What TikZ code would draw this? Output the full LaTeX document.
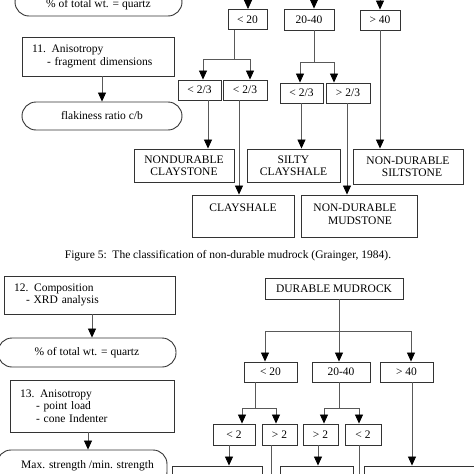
\documentclass[tikz,border=0pt]{standalone}
\usepackage{fontspec}
\setmainfont{Liberation Serif}
\usetikzlibrary{arrows.meta}
\begin{document}
\begin{tikzpicture}[x=1pt,y=-1pt,
  every node/.style={font=\fontsize{11.5}{12.5}\selectfont, inner sep=0pt},
  box/.style={draw=black!80, line width=0.9pt, rectangle, align=center},
  term/.style={draw=black!80, line width=0.9pt, rounded corners=14pt},
  txtbox/.style={draw=black!80, line width=0.9pt, rectangle, align=left},
  conn/.style={draw=black!65, line width=0.8pt},
  arr/.style={conn, -{Triangle[width=8pt,length=9pt,color=black]}}]
\useasboundingbox (0,0) rectangle (474,474);
\clip (0,0) rectangle (474,474);

% ---------- top left column ----------
\node[term, minimum width=167pt, minimum height=28pt] (q1) at (98.5,2) {};
\node (q1T) at (98.5,5) {\% of total wt. = quartz};
\node[txtbox, text width=132pt, inner xsep=10pt, minimum height=39pt] (a11) at (98,56.5)
  {11. Anisotropy\\\hspace*{15pt}- fragment dimensions};
\node[term, minimum width=160pt, minimum height=28pt] (flak) at (102,116) {flakiness ratio c/b};
\draw[arr] (a11.south -| flak.north) -- (flak.north);

% ---------- top right tree ----------
\node[box, minimum width=39pt, minimum height=20pt] (t20) at (247.5,19.5) {< 20};
\node[box, minimum width=50pt, minimum height=21pt] (t2040) at (309,19.5) {20-40};
\node[box, minimum width=40pt, minimum height=20pt] (t40) at (380,20) {> 40};
\coordinate (top1) at (248,-8);
\coordinate (top2) at (314,-8);
\coordinate (top3) at (380,-8);
\draw[arr] (top1) -- (top1 |- t20.north);
\draw[arr] (top2) -- (top2 |- t2040.north);
\draw[arr] (top3) -- (top3 |- t40.north);

\node[box, minimum width=43pt, minimum height=20pt] (s1) at (199.5,90) {< 2/3};
\node[box, minimum width=44pt, minimum height=20pt] (s2) at (245,90) {< 2/3};
\node[box, minimum width=43pt, minimum height=20pt] (s3) at (301.5,93) {< 2/3};
\node[box, minimum width=44pt, minimum height=20pt] (s4) at (348,93) {> 2/3};

\coordinate (j1) at (234,59);
\coordinate (j2) at (314,62);
\draw[conn] (t20.south -| j1) -- (j1);
\draw[arr] (j1) -| ([xshift=3.5pt]s1.north);
\draw[arr] (j1) -| ([xshift=5pt]s2.north);
\draw[conn] (t2040.south -| j2) -- (j2);
\draw[arr] (j2) -| ([xshift=-1.5pt]s3.north);
\draw[arr] (j2) -| ([xshift=-14pt]s4.north);

\node[box, minimum width=100pt, minimum height=33pt] (ndc) at (184,165.5) {NONDURABLE\\CLAYSTONE};
\node[box, minimum width=93pt, minimum height=33pt] (silty) at (293.5,165.5) {SILTY\\CLAYSHALE};
\node[box, minimum width=110pt, minimum height=35pt] (nds) at (408,166.5) {NON-DURABLE\\\hspace*{8pt}SILTSTONE};
\node[box, minimum width=102pt, minimum height=42pt] (clay) at (243,216) {};
\node (clayT) at (243,208) {CLAYSHALE};
\node[box, minimum width=116pt, minimum height=42pt] (ndm) at (359,216) {};
\node[align=center] (ndmT) at (355,214) {NON-DURABLE\\\hspace*{10pt}MUDSTONE};

\draw[arr] ([xshift=8.5pt]s1.south) -- ([xshift=8.5pt]s1.south |- ndc.north);
\draw[arr] ([xshift=-6pt]s2.south) -- ([xshift=-6pt]s2.south |- clay.north);
\draw[arr] (s3.south) -- (s3.south |- silty.north);
\draw[arr] ([xshift=-1pt]s4.south) -- ([xshift=-1pt]s4.south |- ndm.north);
\draw[arr] (t40.south) -- (t40.south |- nds.north);

\node (cap) at (228,256) {Figure 5:\ \ The classification of non-durable mudrock (Grainger, 1984).};

% ---------- bottom left column ----------
\node[txtbox, text width=151pt, inner xsep=10pt, minimum height=38pt] (c12) at (89.5,295)
  {12. Composition\\\hspace*{12pt}- XRD analysis};
\node[term, minimum width=178pt, minimum height=29pt] (q2) at (87,352.5) {\% of total wt. = quartz};
\draw[arr] ([xshift=2.5pt]c12.south) -- ([xshift=2.5pt]c12.south |- q2.north);
\node[txtbox, text width=144pt, inner xsep=10pt, minimum height=52pt] (a13) at (92,406)
  {13. Anisotropy\\\hspace*{16pt}- point load\\\hspace*{16pt}- cone Indenter};
\node[term, minimum width=170pt, minimum height=36pt] (maxs) at (82,468) {};
\node (maxsT) at (87.5,466) {Max. strength /min. strength};
\draw[arr] ([xshift=-4pt]a13.south) -- ([xshift=-4pt]a13.south |- maxs.north);

% ---------- bottom right tree ----------
\node[box, minimum width=138pt, minimum height=21pt] (dm) at (334,288.5) {DURABLE MUDROCK};
\node[box, minimum width=53pt, minimum height=20pt] (u20) at (270.5,372) {< 20};
\node[box, minimum width=58pt, minimum height=20pt] (u2040) at (341,372) {20-40};
\node[box, minimum width=53pt, minimum height=20pt] (u40) at (406.5,372) {> 40};
\coordinate (j3) at (339,331);
\draw[conn] (dm.south -| j3) -- (j3);
\draw[arr] (j3) -| ([xshift=-5.5pt]u20.north);
\draw[arr] (j3) -- (j3 |- u2040.north);
\draw[arr] (j3) -| ([xshift=4.5pt]u40.north);

\node[box, minimum width=42pt, minimum height=21pt] (v1) at (234,434.5) {< 2};
\node[box, minimum width=35pt, minimum height=21pt] (v2) at (279.5,434.5) {> 2};
\node[box, minimum width=35pt, minimum height=21pt] (v3) at (320.5,434.5) {> 2};
\node[box, minimum width=36pt, minimum height=21pt] (v4) at (363,434.5) {< 2};
\coordinate (j4) at (255,408);
\coordinate (j5) at (339,408);
\draw[conn] (u20.south -| j4) -- (j4);
\draw[arr] (j4) -| ([xshift=8pt]v1.north);
\draw[arr] (j4) -| ([xshift=-3.5pt]v2.north);
\draw[conn] (u2040.south -| j5) -- (j5);
\draw[arr] (j5) -| ([xshift=3.5pt]v3.north);
\draw[arr] (j5) -| ([xshift=-4pt]v4.north);

\node[box, minimum width=90pt, minimum height=28pt] (w1) at (217,480) {};
\node[box, minimum width=73pt, minimum height=28pt] (w2) at (316.5,480) {};
\node[box, minimum width=112pt, minimum height=28pt] (w3) at (420,480) {};
\coordinate (e1) at (271,480);
\coordinate (e2) at (359,480);
\draw[arr] ([xshift=-5pt]v1.south) -- ([xshift=-5pt]v1.south |- w1.north);
\draw[conn] ([xshift=-8.5pt]v2.south) -- (e1);
\draw[arr] ([xshift=-2.5pt]v3.south) -- ([xshift=-2.5pt]v3.south |- w2.north);
\draw[conn] ([xshift=-4pt]v4.south) -- (e2);
\draw[arr] ([xshift=5.5pt]u40.south) -- ([xshift=5.5pt]u40.south |- w3.north);
\end{tikzpicture}
\end{document}
